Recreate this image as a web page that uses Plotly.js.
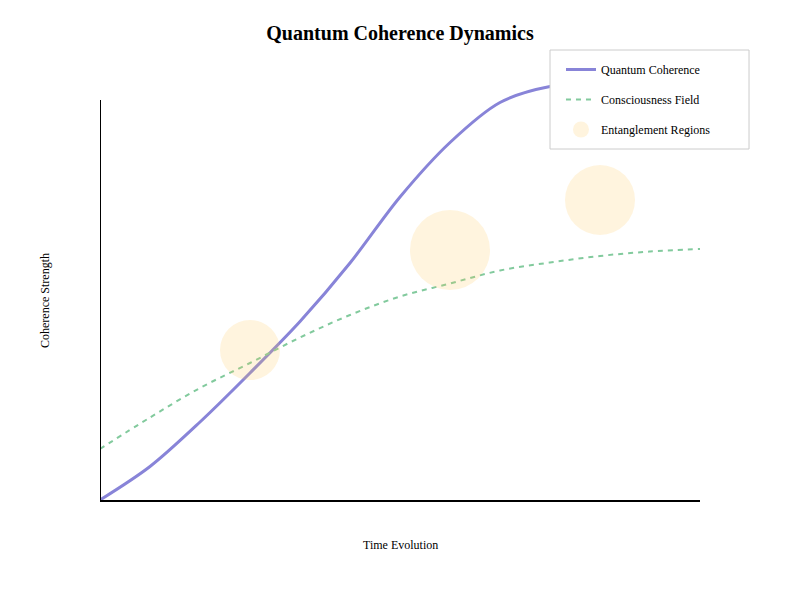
<!DOCTYPE html>
<html>
<head>
<meta charset="utf-8">
<script src="https://cdn.plot.ly/plotly-3.0.1.min.js"></script>
<style>
  body { margin: 0; background: #fff; }
  #chart { width: 800px; height: 600px; }
</style>
</head>
<body>
<div id="chart"></div>
<script>
// time steps along the x axis
var timeSteps = [0, 1, 2, 3, 4, 5, 6, 7, 8, 9, 10, 11, 12];

// quantum coherence (solid purple)
var coherence = [0, 0.67, 1.56, 2.54, 3.57, 4.74, 6.06, 7.15, 7.95, 8.27, 8.34, 8.1, 7.4];

// consciousness field (dashed green)
var fieldStrength = [1.02, 1.65, 2.24, 2.74, 3.25, 3.7, 4.07, 4.33, 4.59, 4.75, 4.88, 4.97, 5.02];

// entanglement regions (bubbles)
var regionTime = [3, 7, 10];
var regionStrength = [3, 5, 6];
var regionSize = [60, 80, 70];

var serif = "Liberation Serif, Times New Roman, serif";

var trace1 = {
  x: timeSteps,
  y: coherence,
  mode: "lines",
  type: "scatter",
  name: "Quantum Coherence",
  legendgroup: "a",
  line: { color: "#8884d8", width: 3, shape: "spline", smoothing: 0.9 }
};

var trace2 = {
  x: timeSteps,
  y: fieldStrength,
  mode: "lines",
  type: "scatter",
  name: "Consciousness Field",
  legendgroup: "b",
  line: { color: "#82ca9d", width: 2, dash: "5px,5px", shape: "spline", smoothing: 1 }
};

var trace3 = {
  x: regionTime,
  y: regionStrength,
  mode: "markers",
  type: "scatter",
  name: "Entanglement Regions",
  legendgroup: "c",
  marker: { color: "#ffc658", opacity: 0.2, size: regionSize, line: { width: 0 } }
};

var data = [trace1, trace2, trace3];

var layout = {
  width: 800,
  height: 600,
  paper_bgcolor: "#fff",
  plot_bgcolor: "#fff",
  margin: { l: 100, r: 100, t: 60, b: 100 },
  font: { family: serif, size: 12, color: "#000" },
  title: {
    text: "<b>Quantum Coherence Dynamics</b>",
    font: { family: serif, size: 20, color: "#000" },
    x: 0.5,
    xanchor: "center",
    yref: "container",
    y: 0.945,
    yanchor: "middle"
  },
  showlegend: true,
  legend: {
    x: 0.7683,
    y: 1.0114,
    xanchor: "left",
    yanchor: "top",
    bgcolor: "rgba(0,0,0,0)",
    borderwidth: 0,
    tracegroupgap: 11,
    itemwidth: 30,
    font: { family: serif, size: 12, color: "#000" }
  },
  xaxis: {
    range: [0, 12],
    showgrid: false,
    zeroline: false,
    showticklabels: false,
    ticks: "",
    showline: true,
    linecolor: "#000",
    linewidth: 2
  },
  yaxis: {
    range: [0, 8.8],
    showgrid: false,
    zeroline: false,
    showticklabels: false,
    ticks: "",
    showline: false
  },
  shapes: [
    // y axis line only runs up to 8, the curve goes past it
    { type: "line", xref: "x", yref: "y", x0: 0, x1: 0, y0: 0, y1: 8,
      line: { color: "#000", width: 2 }, layer: "above" },
    // legend box, wider than plotly's own
    { type: "rect", xref: "paper", yref: "paper", x0: 0.75, x1: 1.0817, y0: 0.7977, y1: 1.0227,
      fillcolor: "#fff", line: { color: "#cccccc", width: 1 }, layer: "above" }
  ],
  annotations: [
    { text: "Time Evolution", xref: "paper", yref: "paper", x: 0.5, y: -0.1023,
      xanchor: "center", yanchor: "middle", showarrow: false,
      font: { family: serif, size: 12, color: "#000" } },
    { text: "Coherence Strength", xref: "paper", yref: "paper", x: -0.0917, y: 0.4545,
      xanchor: "center", yanchor: "middle", textangle: -90, showarrow: false,
      font: { family: serif, size: 12, color: "#000" } }
  ]
};

Plotly.newPlot("chart", data, layout, { displayModeBar: false, staticPlot: true });
</script>
</body>
</html>
